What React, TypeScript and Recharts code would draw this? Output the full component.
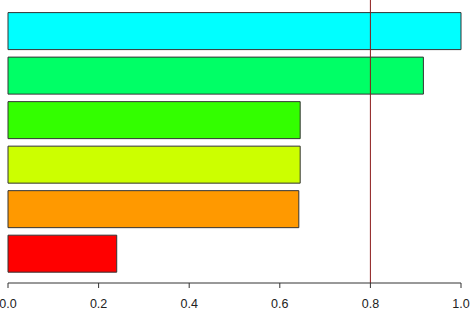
import { BarChart, Bar, XAxis, YAxis, Cell, ReferenceLine } from "recharts";

// top to bottom, as drawn
const groups = ["g6", "g5", "g4", "g3", "g2", "g1"];
const scores = [1.0, 0.917, 0.645, 0.645, 0.642, 0.24];
const fills = ["#00FFFF", "#00FF66", "#33FF00", "#CCFF00", "#FF9900", "#FF0000"];
const xTicks = [0, 0.2, 0.4, 0.6, 0.8, 1.0];
const cutoff = 0.8;

const data = groups.map((g, i) => ({ name: g, value: scores[i] }));

export default function App() {
  return (
    <div style={{ position: "absolute", left: 0, top: 0, background: "#fff" }}>
      <BarChart
        width={474}
        height={322}
        data={data}
        layout="vertical"
        margin={{ top: 0, right: 13, left: 8, bottom: 9 }}
      >
        <XAxis
          type="number"
          domain={[0, 1]}
          ticks={xTicks}
          interval={0}
          height={30}
          tickSize={5}
          tickMargin={11}
          tickFormatter={(v: number) => v.toFixed(1)}
          stroke="#333"
          tick={{ fill: "#222", fontSize: 12.5, fontFamily: "Liberation Sans, Arial, sans-serif" }}
        />
        <YAxis
          type="category"
          dataKey="name"
          hide
          width={0}
          padding={{ top: 8.6, bottom: 7.3 }}
        />
        <Bar dataKey="value" barSize={37} stroke="#333" strokeWidth={1} isAnimationActive={false}>
          {data.map((d, i) => (
            <Cell key={d.name} fill={fills[i]} />
          ))}
        </Bar>
        <ReferenceLine x={cutoff} stroke="#8B1A1A" strokeWidth={1} />
      </BarChart>
    </div>
  );
}
